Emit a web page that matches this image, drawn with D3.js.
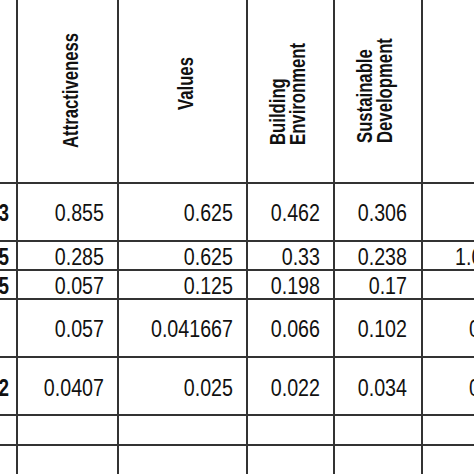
<!DOCTYPE html>
<html><head><meta charset="utf-8">
<script src="https://cdn.jsdelivr.net/npm/d3@7"></script>
<style>body{margin:0;background:#fff}svg{display:block}</style>
</head><body><div id="c"></div>
<script>
const columns = [["Attractiveness"], ["Values"], ["Building", "Environment"], ["Sustainable", "Development"]];
const attractiveness = ["0.855", "0.285", "0.057", "0.057", "0.0407"];
const values = ["0.625", "0.625", "0.125", "0.041667", "0.025"];
const building = ["0.462", "0.33", "0.198", "0.066", "0.022"];
const sustainable = ["0.306", "0.238", "0.17", "0.102", "0.034"];
const leftFragments = ["3", "5", "5", "", "2"];
const rightFragments = ["", "1.0", "", "0", "0"];

const W = 474, H = 474;
const xLines = [17, 118, 247, 334, 422];
const yLines = [183, 241, 270, 299, 357, 415, 445];
const font = "'Liberation Sans',Arial,sans-serif";
const sx = 0.82;
const svg = d3.select("#c").append("svg").attr("width", W).attr("height", H);
const stroke = "#333";

svg.selectAll("line.v").data(xLines).join("line")
  .attr("x1", d => d).attr("x2", d => d).attr("y1", 0).attr("y2", H)
  .attr("stroke", stroke).attr("stroke-width", 2);
svg.selectAll("line.h").data(yLines).join("line")
  .attr("x1", 0).attr("x2", W).attr("y1", d => d).attr("y2", d => d)
  .attr("stroke", stroke).attr("stroke-width", 2);

const headerX = [[70], [185], [277, 297], [364, 384]];
const headerBottom = [148, 110, 145, 143];
columns.forEach((lines, i) => {
  lines.forEach((t, j) => {
    const x = headerX[i][j] + 8, y = headerBottom[i];
    svg.append("text").attr("transform", `translate(${x},${y}) rotate(-90) scale(0.88,1.12)`)
      .attr("text-anchor", "start").attr("font-family", font)
      .attr("font-weight", "bold").attr("font-size", 19).attr("fill", "#111").text(t);
  });
});

const rowBase = [221, 265, 294, 337, 396];
const cols = [attractiveness, values, building, sustainable];
const rightEdge = [104, 233, 320, 407];
cols.forEach((arr, i) => {
  svg.selectAll(null).data(arr).join("text")
    .attr("transform", (d, k) => `translate(${rightEdge[i]},${rowBase[k]}) scale(${sx},1)`)
    .attr("text-anchor", "end").attr("font-family", font).attr("font-size", 24)
    .attr("fill", "#111").text(d => d);
});
svg.selectAll(null).data(leftFragments).join("text")
  .attr("transform", (d, k) => `translate(9,${rowBase[k]}) scale(${sx},1)`).attr("text-anchor", "end")
  .attr("font-family", font).attr("font-weight", "bold").attr("font-size", 23).attr("fill", "#111").text(d => d);
svg.selectAll(null).data(rightFragments).join("text")
  .attr("transform", (d, k) => `translate(${d === "0" ? 469 : 455},${rowBase[k]}) scale(${sx},1)`)
  .attr("font-family", font).attr("font-size", 24).attr("fill", "#111").text(d => d);
</script></body></html>
